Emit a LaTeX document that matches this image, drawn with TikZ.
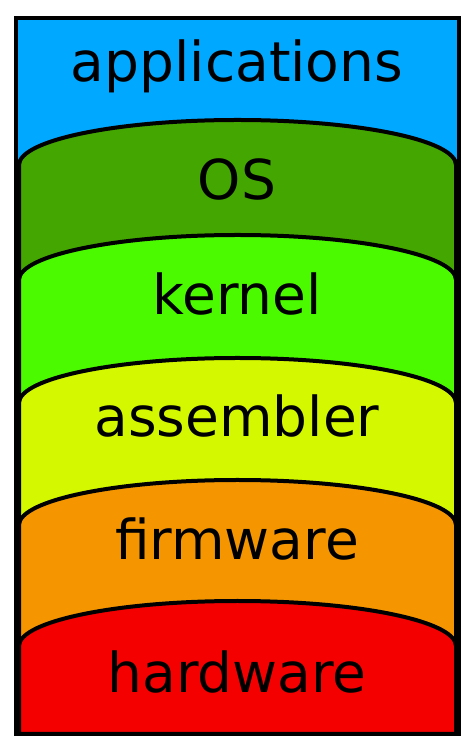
\documentclass[tikz,border=0pt]{standalone}
\usepackage{fontspec}
\setmainfont{DejaVu Sans}
\definecolor{appsBlue}{RGB}{0,168,255}
\definecolor{osGreen}{RGB}{68,166,0}
\definecolor{kernelGreen}{RGB}{76,250,0}
\definecolor{asmYellow}{RGB}{212,248,0}
\definecolor{fwOrange}{RGB}{245,150,0}
\definecolor{hwRed}{RGB}{245,0,0}

\begin{document}
\begin{tikzpicture}
[x=1pt,y=1pt,
  layerDecorate/.style={draw,line width=4pt,line join=round},
  labelDecorate/.style={anchor=base,inner sep=0pt,font=\fontsize{55}{60}\selectfont}]
\useasboundingbox (0,0) rectangle (474,749);
%% background = applications layer
\fill[appsBlue] (16,15) rectangle (459,731);
%% domed layers
\foreach \layername/\toppos/\layercolor in {
  os/629/osGreen,
  kernel/514/kernelGreen,
  assembler/391/asmYellow,
  firmware/269/fwOrange,
  hardware/148/hwRed}
{
  \path[layerDecorate,fill=\layercolor] (19,15) -- (19,\toppos-45)
    arc[start angle=180,end angle=0,x radius=218.5,y radius=45]
    -- (456,15) -- cycle;
}
%% frame
\draw[line width=4pt] (16,15) rectangle (459,731);
%% labels
\foreach \nodename/\y/\labeltext in {
  applications/667/applications,
  os/549/OS,
  kernel/434/kernel,
  assembler/312/assembler,
  firmware/189/firmware,
  hardware/56/hardware}
{
  \node (\nodename) at (237,\y) [labelDecorate] {\labeltext};
}
\end{tikzpicture}
\end{document}
